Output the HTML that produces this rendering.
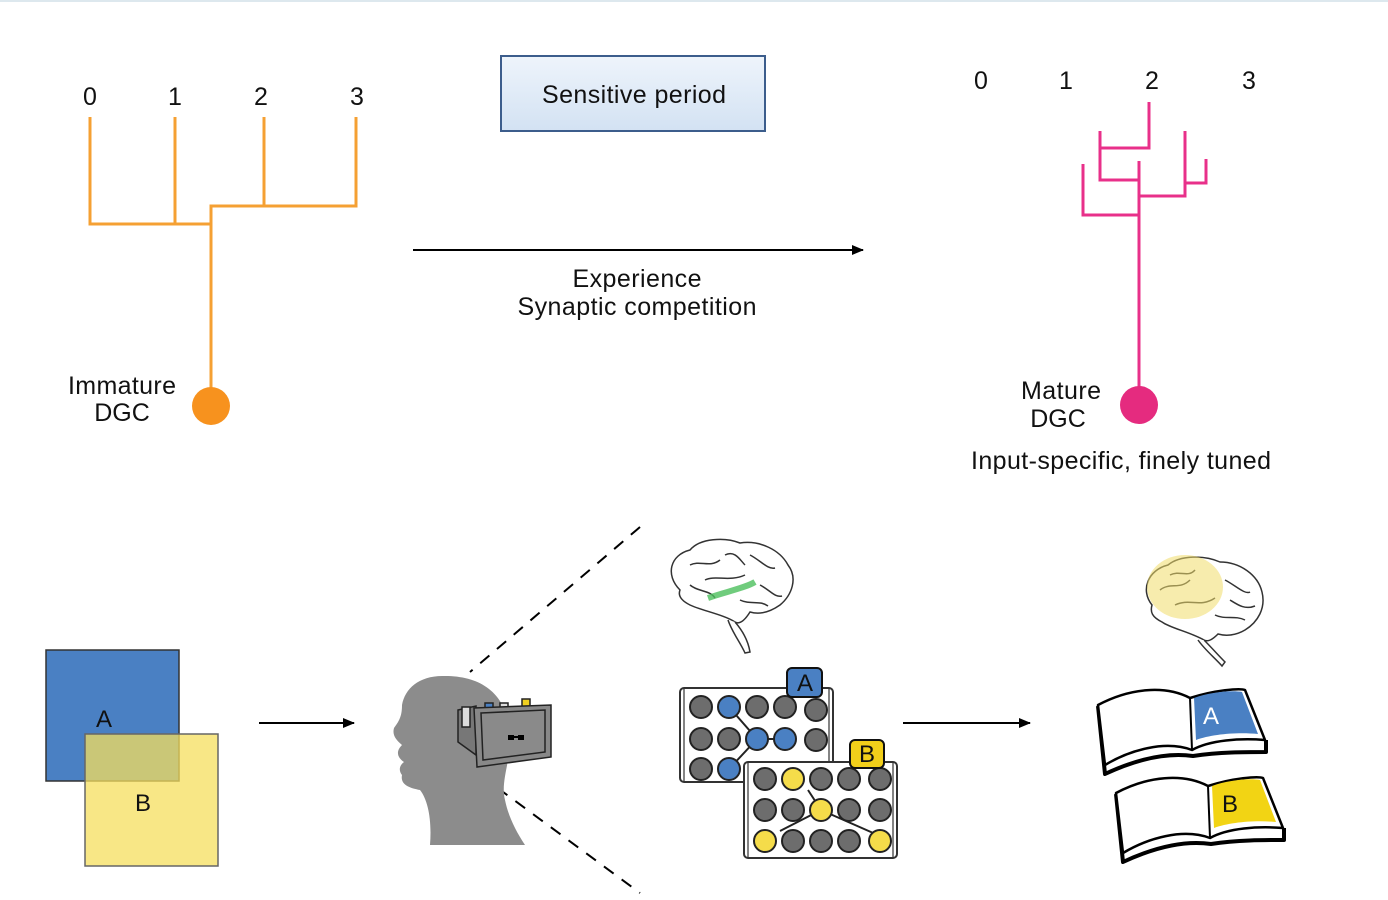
<!DOCTYPE html>
<html><head><meta charset="utf-8"><style>
html,body{margin:0;padding:0;background:#fff;}
svg{display:block;}
text{font-family:"Liberation Sans",sans-serif;fill:#111;}
</style></head><body>
<svg width="1388" height="900" viewBox="0 0 1388 900" xmlns="http://www.w3.org/2000/svg">
<defs>
<linearGradient id="bg" x1="0" y1="0" x2="0" y2="1"><stop offset="0" stop-color="#eef4fb"/><stop offset="1" stop-color="#d3e2f3"/></linearGradient>
<marker id="ar" markerWidth="12" markerHeight="10" refX="11" refY="5" orient="auto" markerUnits="userSpaceOnUse"><path d="M0,0 L12,5 L0,10 z" fill="#000"/></marker>
</defs>
<line x1="0" y1="1" x2="1388" y2="1" stroke="#dde8ee" stroke-width="2"/>
<!-- left tree -->
<g stroke="#f5a033" stroke-width="3" fill="none">
<path d="M90,117V224H211M175,117V224M264,117V206M356,117V206H211V390"/>
</g>
<circle cx="211" cy="406" r="19" fill="#f7921e"/>
<g font-size="25" text-anchor="middle">
<text x="90" y="105">0</text><text x="175" y="105">1</text><text x="261" y="105">2</text><text x="357" y="105">3</text>
<text x="122" y="394" textLength="108">Immature</text><text x="122" y="421">DGC</text>
</g>
<!-- box -->
<rect x="501" y="56" width="264" height="75" fill="url(#bg)" stroke="#3c5d8c" stroke-width="2"/>
<text x="634" y="103" font-size="25" text-anchor="middle" textLength="184">Sensitive period</text>
<line x1="413" y1="250" x2="863" y2="250" stroke="#000" stroke-width="2" marker-end="url(#ar)"/>
<text x="637" y="287" font-size="25" text-anchor="middle" textLength="129">Experience</text>
<text x="637" y="315" font-size="25" text-anchor="middle" textLength="239">Synaptic competition</text>
<!-- right tree -->
<g stroke="#e8308a" stroke-width="3" fill="none">
<path d="M1149,102V148H1100M1100,131V180H1139M1139,161V390M1185,131V196H1139M1206,159V183H1185M1083,164V215H1139"/>
</g>
<circle cx="1139" cy="405" r="19" fill="#e52b7f"/>
<g font-size="25" text-anchor="middle">
<text x="981" y="89">0</text><text x="1066" y="89">1</text><text x="1152" y="89">2</text><text x="1249" y="89">3</text>
<text x="1061" y="399" textLength="80">Mature</text><text x="1058" y="427">DGC</text>
<text x="1121" y="469" textLength="300">Input-specific, finely tuned</text>
</g>
<!-- squares -->
<rect x="46" y="650" width="133" height="131" fill="#4a80c3" stroke="#333" stroke-width="1.5"/>
<rect x="85" y="734" width="133" height="132" fill="#f6df5e" fill-opacity="0.75" stroke="#666" stroke-width="1.5"/>
<text x="104" y="727" font-size="24" text-anchor="middle">A</text>
<text x="143" y="811" font-size="24" text-anchor="middle">B</text>
<line x1="259" y1="723" x2="354" y2="723" stroke="#000" stroke-width="2" marker-end="url(#ar)"/>
<!-- dashed -->
<line x1="640" y1="527" x2="470" y2="672" stroke="#000" stroke-width="2" stroke-dasharray="12,10"/>
<line x1="480" y1="775" x2="640" y2="893" stroke="#000" stroke-width="2" stroke-dasharray="12,10"/>
<!-- head -->
<path d="M430,845 C432,820 428,800 420,790 C410,788 400,785 402,775 C398,770 400,765 404,762 C398,758 395,752 402,745 C396,740 392,735 394,728 C400,720 402,715 402,705 C405,688 420,675 445,676 C480,676 505,692 510,730 C512,760 500,780 505,800 C508,815 515,830 525,845 Z" fill="#8c8c8c"/>
<g stroke="#222" stroke-width="1.5">
<path d="M458,710 L476,706 L476,755 L458,742 Z" fill="#777"/>
<rect x="462" y="707" width="8" height="20" fill="#ddd"/>
<rect x="485" y="703" width="8" height="8" fill="#4a80c3"/>
<rect x="500" y="703" width="8" height="7" fill="#ddd"/>
<rect x="522" y="699" width="8" height="8" fill="#f0d020"/>
<path d="M474,708 L551,705 L551,757 L477,767 Z" fill="#888"/>
<path d="M481,713 L545,710 L545,752 L483,760 Z" fill="#8a8a8a"/>
</g>
<rect x="508" y="735" width="6" height="5" fill="#000"/><rect x="518" y="735" width="6" height="5" fill="#000"/><line x1="512" y1="737" x2="520" y2="737" stroke="#000" stroke-width="2"/>
<!-- brain 1 -->
<g fill="#fff" stroke="#333" stroke-width="1.5">
<path d="M680,590 C665,575 670,555 690,550 C700,538 725,537 740,543 C760,540 780,550 788,565 C798,578 792,595 780,605 C770,612 760,615 750,612 C745,620 740,625 735,622 C725,615 700,610 690,605 C680,600 678,595 680,590 Z"/>
<path d="M735,622 C742,630 748,640 750,652 L745,653 C740,642 732,632 728,620"/>
<path d="M690,565 C700,560 710,568 720,560 M705,580 C715,575 730,582 745,575 M750,555 C760,560 768,570 775,568 M690,585 C698,592 710,590 715,598 M725,555 C735,550 740,560 745,565 M760,585 C770,590 775,598 782,596 M740,600 C750,605 760,600 768,606" fill="none"/>
</g>
<path d="M708,598 C725,592 745,588 755,582" stroke="#4cbf5c" stroke-opacity="0.8" stroke-width="6" fill="none"/>
<!-- plate A -->
<rect x="680" y="688" width="153" height="94" rx="4" fill="#fff" stroke="#333" stroke-width="2"/>
<rect x="684" y="688" width="145" height="94" fill="none" stroke="#333" stroke-width="1.2"/>
<g stroke="#222" stroke-width="2">
<line x1="729" y1="707" x2="757" y2="739"/><line x1="757" y1="739" x2="785" y2="739"/><line x1="757" y1="739" x2="729" y2="769"/>
</g>
<g stroke="#222" stroke-width="2">
<circle cx="701" cy="707" r="11" fill="#6d6d6d"/><circle cx="729" cy="707" r="11" fill="#4a80c3"/><circle cx="757" cy="707" r="11" fill="#6d6d6d"/><circle cx="785" cy="707" r="11" fill="#6d6d6d"/><circle cx="816" cy="710" r="11" fill="#6d6d6d"/>
<circle cx="701" cy="739" r="11" fill="#6d6d6d"/><circle cx="729" cy="739" r="11" fill="#6d6d6d"/><circle cx="757" cy="739" r="11" fill="#4a80c3"/><circle cx="785" cy="739" r="11" fill="#4a80c3"/><circle cx="816" cy="740" r="11" fill="#6d6d6d"/>
<circle cx="701" cy="769" r="11" fill="#6d6d6d"/><circle cx="729" cy="769" r="11" fill="#4a80c3"/>
</g>
<rect x="787" y="668" width="35" height="29" rx="5" fill="#4a80c3" stroke="#111" stroke-width="2"/>
<text x="805" y="691" font-size="24" text-anchor="middle">A</text>
<!-- plate B -->
<rect x="744" y="762" width="153" height="96" rx="4" fill="#fff" stroke="#333" stroke-width="2"/>
<rect x="748" y="762" width="145" height="96" fill="none" stroke="#333" stroke-width="1.2"/>
<g stroke="#222" stroke-width="2">
<line x1="808" y1="790" x2="821" y2="810"/><line x1="821" y1="810" x2="780" y2="831"/><line x1="821" y1="810" x2="880" y2="836"/>
</g>
<g stroke="#222" stroke-width="2">
<circle cx="765" cy="779" r="11" fill="#6d6d6d"/><circle cx="793" cy="779" r="11" fill="#f5dc4a"/><circle cx="821" cy="779" r="11" fill="#6d6d6d"/><circle cx="849" cy="779" r="11" fill="#6d6d6d"/><circle cx="880" cy="779" r="11" fill="#6d6d6d"/>
<circle cx="765" cy="810" r="11" fill="#6d6d6d"/><circle cx="793" cy="810" r="11" fill="#6d6d6d"/><circle cx="821" cy="810" r="11" fill="#f5dc4a"/><circle cx="849" cy="810" r="11" fill="#6d6d6d"/><circle cx="880" cy="810" r="11" fill="#6d6d6d"/>
<circle cx="765" cy="841" r="11" fill="#f5dc4a"/><circle cx="793" cy="841" r="11" fill="#6d6d6d"/><circle cx="821" cy="841" r="11" fill="#6d6d6d"/><circle cx="849" cy="841" r="11" fill="#6d6d6d"/><circle cx="880" cy="841" r="11" fill="#f5dc4a"/>
</g>
<rect x="850" y="740" width="34" height="28" rx="5" fill="#f2cf1a" stroke="#111" stroke-width="2"/>
<text x="867" y="762" font-size="24" text-anchor="middle">B</text>
<line x1="903" y1="723" x2="1030" y2="723" stroke="#000" stroke-width="2" marker-end="url(#ar)"/>
<!-- brain 2 -->
<g fill="#fff" stroke="#333" stroke-width="1.5">
<path d="M1152,605 C1140,590 1148,570 1168,565 C1180,555 1205,555 1220,562 C1240,562 1258,575 1262,592 C1266,608 1258,622 1245,630 C1235,636 1225,636 1218,634 C1212,640 1208,642 1204,640 C1190,632 1170,628 1162,622 C1152,617 1150,612 1152,605 Z"/>
<path d="M1204,640 C1212,648 1218,655 1225,662 L1222,666 C1215,658 1205,650 1198,640"/>
<path d="M1160,590 C1170,582 1180,590 1190,580 M1175,605 C1190,598 1200,608 1215,598 M1225,580 C1235,585 1245,595 1250,592 M1215,615 C1225,620 1235,615 1245,620 M1170,575 C1180,570 1188,578 1195,570 M1230,600 C1238,605 1245,610 1255,606" fill="none"/>
</g>
<ellipse cx="1185" cy="587" rx="38" ry="32" fill="#f1dc6a" fill-opacity="0.55"/>
<!-- book A -->
<g stroke="#000" stroke-linejoin="round" fill="none">
<path d="M1098,706 L1105,774 C1135,760 1165,752 1193,756 C1220,752 1245,752 1266,752 L1266,740" stroke-width="4"/>
<path d="M1098,705 C1130,688 1165,685 1190,698 C1215,690 1240,688 1245,690 L1265,740 C1240,738 1210,740 1192,750 C1165,740 1130,750 1105,765 Z" fill="#fff" stroke-width="2.5"/>
<path d="M1190,698 L1192,750" stroke-width="2"/>
</g>
<path d="M1194,698 C1210,692 1232,690 1242,692 L1258,734 C1238,732 1212,734 1196,740 Z" fill="#4a80c3"/>
<text x="1211" y="724" font-size="24" text-anchor="middle" style="fill:#fff">A</text>
<!-- book B -->
<g stroke="#000" stroke-linejoin="round" fill="none">
<path d="M1116,794 L1123,862 C1153,848 1183,840 1211,844 C1238,840 1263,840 1284,840 L1284,828" stroke-width="4"/>
<path d="M1116,793 C1148,776 1183,773 1208,786 C1233,778 1258,776 1263,778 L1283,828 C1258,826 1228,828 1210,838 C1183,828 1148,838 1123,853 Z" fill="#fff" stroke-width="2.5"/>
<path d="M1208,786 L1210,838" stroke-width="2"/>
</g>
<path d="M1212,786 C1228,780 1250,778 1260,780 L1276,822 C1256,820 1230,822 1214,828 Z" fill="#f2d414"/>
<text x="1230" y="812" font-size="24" text-anchor="middle">B</text>
</svg>
</body></html>
